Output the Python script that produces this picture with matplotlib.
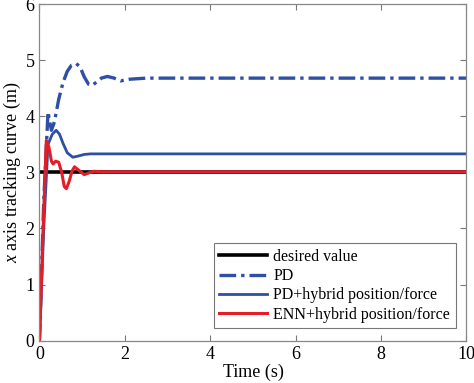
import matplotlib
matplotlib.use("Agg")
import matplotlib.pyplot as plt

# values
t_desired = [0, 10]
x_desired = [3, 3]

t_pd = [0, 0.1, 0.2, 0.24, 0.28, 0.35, 0.45, 0.55, 0.65, 0.75, 0.86, 0.95, 1.05, 1.15, 1.23,
        1.32, 1.45, 1.59, 1.75, 1.9, 2.1, 2.5, 10]
x_pd = [0, 2.5, 4.08, 3.9, 3.75, 3.9, 4.3, 4.6, 4.8, 4.91, 4.94, 4.88, 4.7, 4.57, 4.55,
        4.6, 4.68, 4.71, 4.68, 4.63, 4.66, 4.68, 4.68]

t_pdh = [0, 0.1, 0.2, 0.3, 0.39, 0.47, 0.55, 0.65, 0.78, 0.9, 1.05, 1.2, 10]
x_pdh = [0, 2.0, 3.5, 3.68, 3.75, 3.68, 3.52, 3.35, 3.27, 3.29, 3.32, 3.33, 3.33]

t_enn = [0, 0.08, 0.16, 0.22, 0.28, 0.32, 0.38, 0.45, 0.52, 0.58, 0.63, 0.7, 0.76, 0.82,
         0.9, 1.05, 1.15, 1.28, 1.45, 10]
x_enn = [0, 1.9, 3.57, 3.45, 3.2, 3.15, 3.2, 3.18, 3.0, 2.75, 2.71, 2.85, 3.02, 3.1,
         3.05, 2.96, 2.99, 3.02, 3.01, 3.01]

labels = ['desired value', 'PD', 'PD+hybrid position/force', 'ENN+hybrid position/force']

plt.rcParams['font.family'] = ['Liberation Serif', 'DejaVu Serif']
plt.rcParams['mathtext.fontset'] = 'custom'
plt.rcParams['mathtext.it'] = 'Liberation Serif:italic'
plt.rcParams['mathtext.rm'] = 'Liberation Serif'

fig = plt.figure(figsize=(4.74, 3.83), dpi=100)
ax = fig.add_axes([0.0833, 0.1104, 0.9008, 0.879])

ax.plot(t_desired, x_desired, color='black', lw=2.6, label=labels[0])
ax.plot(t_pd, x_pd, color='#2e4fa3', lw=2.4, ls=(0, (5, 1.5, 1, 1.5)), label=labels[1])
ax.plot(t_pdh, x_pdh, color='#2e4fa3', lw=2.0, label=labels[2])
ax.plot(t_enn, x_enn, color='#e41e26', lw=2.2, label=labels[3])

ax.set_xlim(0, 10)
ax.set_ylim(0, 6)
ax.set_xticks([0, 2, 4, 6, 8, 10])
ax.set_yticks([0, 1, 2, 3, 4, 5, 6])
ax.tick_params(direction='in', top=True, right=True, length=4, width=0.8,
               colors='#777777', labelcolor='black', labelsize=13)
for s in ax.spines.values():
    s.set_color('#888888')
    s.set_linewidth(0.9)

ax.set_xlabel('Time (s)', fontsize=13, labelpad=1)
ax.set_ylabel('$x$ axis tracking curve (m)', fontsize=13, labelpad=2)

leg = ax.legend(loc='lower right', bbox_to_anchor=(0.975, 0.037), fontsize=11.5,
                frameon=True, fancybox=False, handlelength=3.0, handletextpad=0.4,
                borderpad=0.35, labelspacing=0.2, borderaxespad=0)
leg.get_frame().set_edgecolor('#555555')
leg.get_frame().set_linewidth(0.8)

fig.savefig('out.png', dpi=100)
